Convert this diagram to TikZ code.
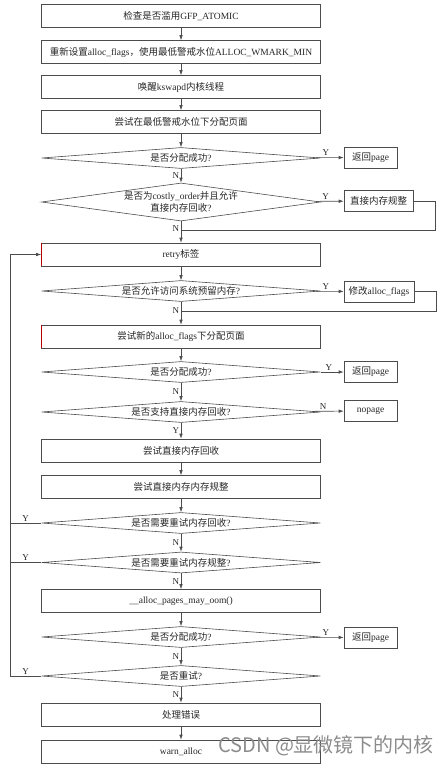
\documentclass[tikz,border=0pt]{standalone}
\usepackage{fontspec}
\setmainfont{Liberation Serif}
\newfontfamily\cjk{Noto Sans CJK SC}
\newcommand{\zh}[1]{{\cjk #1}}
\usetikzlibrary{shapes.geometric,arrows.meta}

\tikzset{
  box/.style={draw=black!70, line width=0.6pt, minimum width=279pt, minimum height=23pt, inner sep=0pt, text=black!85, font=\fontsize{9.5}{11}\selectfont},
  decision/.style={diamond, draw=black!70, line width=0.6pt, aspect=14, minimum width=279pt, minimum height=21pt, inner sep=0pt, align=center, text=black!85, font=\fontsize{9.5}{12}\selectfont},
  sidebox/.style={draw=black!70, line width=0.6pt, minimum width=53pt, minimum height=21pt, inner sep=0pt, text=black!85, font=\fontsize{9.5}{11}\selectfont},
  line/.style={draw=black!70, line width=0.6pt},
  arrow/.style={line, -{Latex[length=5pt,width=3.5pt]}},
  lbl/.style={text=black!85, inner sep=1.5pt, font=\fontsize{9}{10}\selectfont}
}

\begin{document}
\begin{tikzpicture}[x=1pt, y=-1pt]
        \useasboundingbox (0,0) rectangle (446,766);

        % Draw the main column
        \node[box] (gfp) at (181,16) {\zh{检查是否滥用}GFP\_ATOMIC};
        \node[box] (flags) at (181,52) {\zh{重新设置}alloc\_flags\zh{，使用最低警戒水位}ALLOC\_WMARK\_MIN};
        \node[box] (kswapd) at (181,87) {\zh{唤醒}kswapd\zh{内核线程}};
        \node[box] (trymin) at (181,122) {\zh{尝试在最低警戒水位下分配页面}};
        \node[decision] (ok1) at (181,158) {\zh{是否分配成功}?};
        \node[decision, aspect=7.3, minimum height=38pt] (costly) at (181,202) {\zh{是否为}costly\_order\zh{并且允许}\\\zh{直接内存回收}?};
        \node[box] (retry) at (181,254.5) {retry\zh{标签}};
        \node[decision] (reserve) at (181,291) {\zh{是否允许访问系统预留内存}?};
        \node[box] (trynew) at (181,336.5) {\zh{尝试新的}alloc\_flags\zh{下分配页面}};
        \node[decision] (ok2) at (181,372) {\zh{是否分配成功}?};
        \node[decision] (direct) at (181,412) {\zh{是否支持直接内存回收}?};
        \node[box] (reclaim) at (181,450.5) {\zh{尝试直接内存回收}};
        \node[box] (compact) at (181,487) {\zh{尝试直接内存内存规整}};
        \node[decision] (again1) at (181,523) {\zh{是否需要重试内存回收}?};
        \node[decision] (again2) at (181,562.5) {\zh{是否需要重试内存规整}?};
        \node[box] (oom) at (181,601) {\_\_alloc\_pages\_may\_oom()};
        \node[decision] (ok3) at (181,637) {\zh{是否分配成功}?};
        \node[decision] (again3) at (181,676) {\zh{是否重试}?};
        \node[box] (error) at (181,714.5) {\zh{处理错误}};
        \node[box] (warn) at (181,751.5) {warn\_alloc};

        % Draw the side boxes
        \node[sidebox] (page1) at (370.5,157.5) {\zh{返回}page};
        \node[sidebox, minimum width=69pt] (compact0) at (378.5,201) {\zh{直接内存规整}};
        \node[sidebox, minimum width=70pt] (modify) at (379,291.5) {\zh{修改}alloc\_flags};
        \node[sidebox] (page2) at (370.5,372) {\zh{返回}page};
        \node[sidebox] (nopage) at (370.5,411) {nopage};
        \node[sidebox] (page3) at (370.5,637.5) {\zh{返回}page};

        % Red left edges
        \draw[red!70!black, line width=0.6pt] (retry.north west) -- (retry.south west);
        \draw[red!70!black, line width=0.6pt] (trynew.north west) -- (trynew.south west);

        % Join points and the retry rail
        \coordinate (join1) at (181,230);
        \coordinate (join2) at (181,311);
        \coordinate (rail) at (10,0);

        % Draw the straight arrows
        \draw[arrow] (gfp) -- (flags);
        \draw[arrow] (flags) -- (kswapd);
        \draw[arrow] (kswapd) -- (trymin);
        \draw[arrow] (trymin) -- (ok1);
        \draw[arrow] (ok1) -- node[lbl, left] {N} (costly);
        \draw[arrow] (costly) -- node[lbl, left, pos=0.35] {N} (retry);
        \draw[arrow] (retry) -- (reserve);
        \draw[arrow] (reserve) -- node[lbl, left, pos=0.4] {N} (trynew);
        \draw[arrow] (trynew) -- (ok2);
        \draw[arrow] (ok2) -- node[lbl, left] {N} (direct);
        \draw[arrow] (direct) -- node[lbl, left] {Y} (reclaim);
        \draw[arrow] (reclaim) -- (compact);
        \draw[arrow] (compact) -- (again1);
        \draw[arrow] (again1) -- node[lbl, left] {N} (again2);
        \draw[arrow] (again2) -- node[lbl, left] {N} (oom);
        \draw[arrow] (oom) -- (ok3);
        \draw[arrow] (ok3) -- node[lbl, left] {N} (again3);
        \draw[arrow] (again3) -- node[lbl, left] {N} (error);
        \draw[arrow] (error) -- (warn);

        % Draw the arrows to the right
        \draw[arrow] (ok1) -- node[lbl, above, pos=0.35] {Y} (page1);
        \draw[arrow] (costly) -- node[lbl, above, pos=0.35] {Y} (compact0);
        \draw[arrow] (reserve) -- node[lbl, above, pos=0.35] {Y} (modify);
        \draw[arrow] (ok2) -- node[lbl, above, pos=0.35] {Y} (page2);
        \draw[arrow] (direct) -- node[lbl, above, pos=0.35] {N} (nopage);
        \draw[arrow] (ok3) -- node[lbl, above, pos=0.35] {Y} (page3);

        % Draw the loops back into the column
        \draw[line] (compact0.east) -- ++(22,0) |- (join1);
        \draw[line] (modify.east) -- ++(22,0) |- (join2);
        \draw[line] (again1.west) -- node[lbl, above] {Y} (again1.west -| rail);
        \draw[line] (again2.west) -- node[lbl, above] {Y} (again2.west -| rail);
        \draw[arrow] (again3.west) -- node[lbl, above] {Y} (again3.west -| rail) |- (retry.west);

        % Watermark
        \node[anchor=west, inner sep=0pt, text=black!45, font=\cjk\fontsize{20}{22}\selectfont] (mark) at (218,746) {CSDN @显微镜下的内核};
\end{tikzpicture}
\end{document}
